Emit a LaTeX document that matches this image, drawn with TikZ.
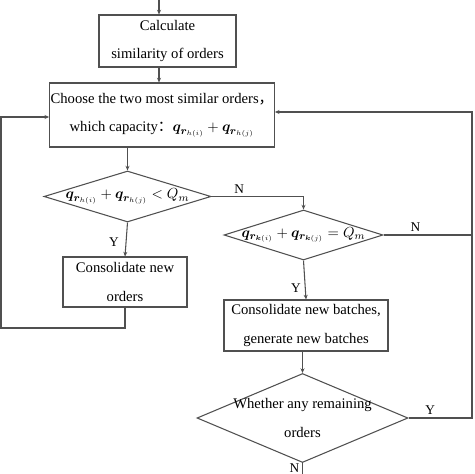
\documentclass[tikz,border=0pt]{standalone}
\usepackage{fontspec}
\usepackage{bm}
\setmainfont{Liberation Serif}
\newfontfamily\cjk{Noto Sans CJK SC}
\usetikzlibrary{shapes.geometric,arrows.meta}

\definecolor{linegray}{HTML}{505050}

\tikzset{
  procbox/.style  = {draw=linegray, line width=0.8pt, rectangle, inner sep=0pt, align=center,
                     font=\fontsize{11}{21.5}\selectfont},
  decision/.style = {draw=linegray, line width=0.8pt, diamond, inner sep=0pt},
  condtext/.style = {align=center, inner sep=0pt, font=\fontsize{11}{21.5}\selectfont},
  flow/.style     = {draw=linegray, line width=0.8pt, -{Stealth[length=3.5pt,width=3pt]}},
  link/.style     = {draw=linegray, line width=0.8pt},
  yn/.style       = {font=\fontsize{10}{12}\selectfont, inner sep=2pt},
}

\begin{document}
\begin{tikzpicture}[x=0.75pt, y=-0.75pt]

    \useasboundingbox (0,0) rectangle (474,474);

    % Draw Process Boxes
    \node[procbox, minimum width=102.75pt, minimum height=39pt] (calc) at (167.5,41)
        {Calculate\\similarity of orders};
    \node[procbox, minimum width=168.5pt, minimum height=48pt] (choose) at (162,115)
        {Choose the two most similar orders{\cjk ，}\\
         which capacity{\cjk ：}$\bm{q}_{\bm{r}_{h(i)}}+\bm{q}_{\bm{r}_{h(j)}}$};
    \node[procbox, minimum width=93pt, minimum height=37.5pt] (cno) at (125,282)
        {Consolidate new\\orders};
    \node[procbox, minimum width=123pt, minimum height=38.25pt] (cnb) at (306,325.5)
        {Consolidate new batches,\\generate new batches};

    % Draw Decisions
    \node[decision, minimum width=125.25pt, minimum height=38.25pt] (d1) at (127.5,196.5) {};
    \node[decision, minimum width=119.25pt, minimum height=37.5pt] (d2) at (303.5,235) {};
    \node[decision, minimum width=158.25pt, minimum height=66.75pt] (d3) at (302.5,418) {};
    \node[condtext] (d1txt) at (d1) {$\bm{q}_{\bm{r}_{h(i)}}+\bm{q}_{\bm{r}_{h(j)}}<Q_m$};
    \node[condtext] (d2txt) at (d2) {$\bm{q}_{\bm{r}_{\bm{k}(i)}}+\bm{q}_{\bm{r}_{\bm{k}(j)}}=Q_m$};
    \node[condtext] (d3txt) at (d3) {Whether any remaining\\orders};

    % Loop Corners
    \coordinate (top) at (159,0);
    \coordinate (rr)  at (472,112);
    \coordinate (ll)  at (1,117);
    \coordinate (lb)  at (1,328);
    \coordinate (bot) at (303,474);

    % Draw Connectors
    \draw[flow] (top) -- (top |- calc.north);
    \draw[flow] (top |- calc.south) -- (top |- choose.north);
    \draw[flow] (d1.north |- choose.south) -- (d1.north);
    \draw[flow] (d1.east) -| node[yn, above, pos=0.15] {N} (d2.north);
    \draw[flow] (d1.south) -- node[yn, left, xshift=-3pt, pos=0.57] {Y} (cno.north);
    \draw[flow] (d2.south) -- node[yn, left, xshift=-1pt, pos=0.7] {Y} (cnb.north);
    \draw[flow] (cnb.south -| d3.north) -- (d3.north);
    \draw[link] (d2.east) -- node[yn, above, pos=0.36] {N} (d2.east -| rr);
    \draw[flow] (d3.east) -- node[yn, above, pos=0.34] {Y} (d3.east -| rr)
                -- (rr) -- (rr -| choose.east);                        % Back to Choose (right)
    \draw[flow] (cno.south) |- (lb) -- (ll) -- (ll -| choose.west);   % Back to Choose (left)
    \draw[link] (d3.south) -- node[yn, left, pos=0.45] {N} (d3.south |- bot);

\end{tikzpicture}
\end{document}
